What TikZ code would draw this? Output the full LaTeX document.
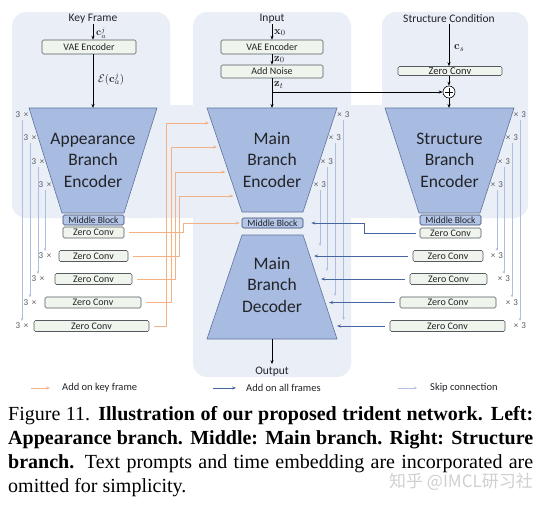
\documentclass[tikz,border=0pt]{standalone}
\usepackage[no-math]{fontspec}
\setmainfont{Carlito}
\newfontfamily\capfont{Liberation Serif}
\newfontfamily\cjkfont{Noto Sans CJK SC}
\usetikzlibrary{arrows.meta}
\definecolor{panelbg}{RGB}{234,238,247}
\definecolor{trapfill}{RGB}{167,188,224}
\definecolor{trapline}{RGB}{95,115,155}
\definecolor{mbfill}{RGB}{180,198,232}
\definecolor{mbline}{RGB}{55,70,105}
\definecolor{zcfill}{RGB}{239,245,237}
\definecolor{zcline}{RGB}{85,90,95}
\definecolor{orangeln}{RGB}{244,178,132}
\definecolor{blueln}{RGB}{70,100,160}
\definecolor{skipln}{RGB}{172,190,226}
\definecolor{txt}{RGB}{35,35,40}
\definecolor{multc}{RGB}{90,90,95}
\definecolor{wm}{RGB}{200,200,200}
\tikzset{
  title/.style={font=\fontsize{11.5}{13}\selectfont, text=txt, inner sep=0pt},
  lab/.style={font=\fontsize{11}{12}\selectfont, text=txt, inner sep=0pt},
  gbox/.style={draw=zcline, fill=zcfill, rounded corners=1.5pt, inner sep=0pt, line width=0.6pt, font=\fontsize{10}{11}\selectfont, text=txt},
  mbox/.style={draw=mbline, fill=mbfill, rounded corners=1.5pt, inner sep=0pt, line width=0.6pt, font=\fontsize{9.5}{10}\selectfont, text=txt},
  trap/.style={draw=trapline, fill=trapfill, line width=0.6pt},
  bigtxt/.style={font=\fontsize{17.5}{21.5}\selectfont, align=center, text=txt, inner sep=0pt},
  mult/.style={font=\fontsize{9}{9}\selectfont, text=multc, inner sep=0pt},
  arr/.style={-{Stealth[length=4pt,width=3pt]}, line width=0.6pt, draw=black},
  oarr/.style={-{Stealth[length=4pt,width=3pt]}, line width=0.8pt, draw=orangeln},
  barr/.style={-{Stealth[length=4pt,width=3pt]}, line width=1pt, draw=blueln},
  sarr/.style={-{Stealth[length=3pt,width=2.5pt]}, line width=0.7pt, draw=skipln, shorten <=2pt, shorten >=2pt},
  legtxt/.style={font=\fontsize{10.5}{12}\selectfont, text=txt, inner sep=0pt}
}
\begin{document}
\begin{tikzpicture}[x=1pt,y=-1pt]
\useasboundingbox (0,0) rectangle (541,504);
\fill[white] (0,0) rectangle (541,504);
% panels
\fill[panelbg, rounded corners=14pt] (12,12) rectangle (170,218);
\fill[panelbg, rounded corners=14pt] (193,12) rectangle (351,377);
\fill[panelbg, rounded corners=14pt] (382,12) rectangle (528,218);
\fill[panelbg] (160,105) rectangle (392,218);

% ---------- left branch top
\node[title] (kf) at (93,18.5) {Key Frame};
\node[gbox, minimum width=94pt, minimum height=14pt] (vaeL) at (89,47) {VAE Encoder};
\draw[arr] ([yshift=-1pt]kf.south) -- (kf.south |- vaeL.north);
\node[lab, font=\fontsize{10}{11}\selectfont, anchor=west] (caj) at (96,33) {$\mathbf{c}_a^j$};
\coordinate (appTop) at (93,108);
\draw[arr] (vaeL.south -| appTop) -- (appTop);
\node[lab, anchor=west] (ecaj) at (98,79) {$\mathcal{E}(\mathbf{c}_a^j)$};

% ---------- main branch top
\node[title] (inp) at (272,18.5) {Input};
\node[gbox, minimum width=102pt, minimum height=14pt] (vaeM) at (272,47) {VAE Encoder};
\draw[arr] ([yshift=-1pt]inp.south) -- (inp.south |- vaeM.north);
\node[lab, anchor=west] (x0) at (274,32.5) {$\mathbf{x}_0$};
\node[gbox, minimum width=102pt, minimum height=13pt] (noise) at (272,71.5) {Add Noise};
\draw[arr] (vaeM.south) -- (noise.north);
\node[lab, anchor=west] (z0) at (274,59.5) {$\mathbf{z}_0$};
\coordinate (mainTop) at (272,108);
\coordinate (ztc) at (272,92);
\draw[arr] (noise.south) -- (mainTop);
\node[lab, anchor=west] (zt) at (274,85) {$\mathbf{z}_t$};

% ---------- structure branch top
\node[title] (sc) at (449,18.5) {Structure Condition};
\node[draw, circle, minimum size=12pt, inner sep=0pt, line width=0.6pt, fill=white] (plus) at (449,92) {};
\draw[line width=0.6pt] ([yshift=4pt]plus.center) -- ([yshift=-4pt]plus.center)
      ([xshift=-4pt]plus.center) -- ([xshift=4pt]plus.center);
\node[gbox, minimum width=104pt, minimum height=9pt, font=\fontsize{10.5}{10.5}\selectfont] (zcTop) at (450,71) {Zero Conv};
\draw[arr] ([yshift=-1pt]sc.south -| plus) -- (plus |- zcTop.north);
\node[lab, anchor=west] (cs) at (454,48) {$\mathbf{c}_s$};
\draw[arr] (plus |- zcTop.south) -- (plus.north);
\coordinate (strTop) at (449,108);
\draw[arr] (plus.south) -- (strTop);
\draw[arr] (ztc) -- (plus.west);

% ---------- trapezoids
\draw[trap] (29,108) -- (157,108) -- (124,213) -- (62,213) -- cycle;
\node[bigtxt] (appT) at (93,160) {Appearance\\Branch\\Encoder};
\draw[trap] (207,108) -- (337,108) -- (303,212) -- (242,212) -- cycle;
\node[bigtxt] (encT) at (272,160) {Main\\Branch\\Encoder};
\draw[trap] (242,235) -- (303,235) -- (337,339) -- (207,339) -- cycle;
\node[bigtxt] (decT) at (272,285) {Main\\Branch\\Decoder};
\draw[trap] (385,108) -- (514,108) -- (480,213) -- (419,213) -- cycle;
\node[bigtxt] (strT) at (449.5,160) {Structure\\Branch\\Encoder};

% ---------- middle blocks
\node[mbox, minimum width=61pt, minimum height=10pt] (mbL) at (93.5,220) {Middle Block};
\node[mbox, minimum width=61pt, minimum height=10pt] (mbM) at (272.5,223) {Middle Block};
\node[mbox, minimum width=61pt, minimum height=10pt] (mbR) at (450.5,220) {Middle Block};

% ---------- zero convs left
\node[gbox, minimum width=61pt, minimum height=11pt] (zcL1) at (93.5,232.5) {Zero Conv};
\node[gbox, minimum width=69pt, minimum height=11pt] (zcL2) at (93.5,256) {Zero Conv};
\node[gbox, minimum width=77pt, minimum height=11pt] (zcL3) at (93.5,279) {Zero Conv};
\node[gbox, minimum width=96pt, minimum height=11pt] (zcL4) at (93,302.5) {Zero Conv};
\node[gbox, minimum width=115pt, minimum height=11pt] (zcL5) at (91.5,326) {Zero Conv};
% ---------- zero convs right
\node[gbox, minimum width=61pt, minimum height=10pt] (zcR1) at (450.5,233) {Zero Conv};
\node[gbox, minimum width=70pt, minimum height=11pt] (zcR2) at (448,256) {Zero Conv};
\node[gbox, minimum width=77pt, minimum height=11pt] (zcR3) at (448.5,279) {Zero Conv};
\node[gbox, minimum width=96pt, minimum height=11pt] (zcR4) at (448,302.5) {Zero Conv};
\node[gbox, minimum width=115pt, minimum height=11pt] (zcR5) at (447.5,326) {Zero Conv};

% ---------- multiplier labels
\node[mult] (ltA) at (22,115) {3\hspace{3.5pt}×};
\node[mult] (ltB) at (30,137.5) {3\hspace{3.5pt}×};
\node[mult] (ltC) at (38,161.5) {3\hspace{3.5pt}×};
\node[mult] (ltD) at (45,185) {3\hspace{3.5pt}×};
\node[mult] (lbD) at (45,256) {3\hspace{3.5pt}×};
\node[mult] (lbC) at (38,279) {3\hspace{3.5pt}×};
\node[mult] (lbB) at (30,302.5) {3\hspace{3.5pt}×};
\node[mult] (lbA) at (22,326) {3\hspace{3.5pt}×};
\node[mult] (mtA) at (343.5,115) {×\hspace{3pt}3};
\node[mult] (mtB) at (335,137.5) {×\hspace{3pt}3};
\node[mult] (mtC) at (327,161.5) {×\hspace{3pt}3};
\node[mult] (mtD) at (320,185) {×\hspace{3pt}3};
\node[mult] (rtA) at (520,115) {×\hspace{3pt}3};
\node[mult] (rtB) at (512,137.5) {×\hspace{3pt}3};
\node[mult] (rtC) at (504,161.5) {×\hspace{3pt}3};
\node[mult] (rtD) at (497,185) {×\hspace{3pt}3};
\node[mult] (rbD) at (497,256) {×\hspace{3pt}3};
\node[mult] (rbC) at (504,279) {×\hspace{3pt}3};
\node[mult] (rbB) at (512,302.5) {×\hspace{3pt}3};
\node[mult] (rbA) at (520,326) {×\hspace{3pt}3};

% ---------- skip connections
\draw[sarr] (ltA.south) -- (lbA.north);
\draw[sarr] (ltB.south) -- (lbB.north);
\draw[sarr] (ltC.south) -- (lbC.north);
\draw[sarr] (ltD.south) -- (lbD.north);
\draw[sarr] (rtA.south) -- (rbA.north);
\draw[sarr] (rtB.south) -- (rbB.north);
\draw[sarr] (rtC.south) -- (rbC.north);
\draw[sarr] (rtD.south) -- (rbD.north);
\coordinate (mbA) at (343.5,322);
\coordinate (mbB) at (335,298);
\coordinate (mbC) at (327,273);
\coordinate (mbD) at (320,248);
\draw[sarr] (mtA.south) -- (mbA);
\draw[sarr] (mtB.south) -- (mbB);
\draw[sarr] (mtC.south) -- (mbC);
\draw[sarr] (mtD.south) -- (mbD);

% ---------- orange: add on key frame
\coordinate (oT2) at (233.5,196);
\coordinate (oT3) at (225.5,172);
\coordinate (oT4) at (217,147);
\coordinate (oT5) at (209,123);
\draw[oarr] ([xshift=5pt]zcL1.east) -| (183,223) -- ([xshift=-2pt]mbM.west);
\draw[oarr] ([xshift=5pt]zcL2.east) -| (179,196) -- (oT2);
\draw[oarr] ([xshift=5pt]zcL3.east) -| (175,172) -- (oT3);
\draw[oarr] ([xshift=5pt]zcL4.east) -| (171,147) -- (oT4);
\draw[oarr] ([xshift=5pt]zcL5.east) -| (166,123) -- (oT5);

% ---------- dark blue: add on all frames
\coordinate (bT2) at (314,256);
\coordinate (bT3) at (321,279);
\coordinate (bT4) at (329,302.5);
\coordinate (bT5) at (337,326);
\draw[barr] ([xshift=-4pt]zcR1.west) -| (364,223) -- ([xshift=8pt]mbM.east);
\draw[barr] ([xshift=-5pt]zcR2.west) -- (bT2);
\draw[barr] ([xshift=-5pt]zcR3.west) -- (bT3);
\draw[barr] ([xshift=-5pt]zcR4.west) -- (bT4);
\draw[barr] ([xshift=-5pt]zcR5.west) -- (bT5);

% ---------- output
\coordinate (decBot) at (272,339);
\node[title] (outp) at (272,372) {Output};
\draw[arr, shorten >=3pt] (decBot) -- (outp.north);

% ---------- legend
\node[legtxt, anchor=west] (lg1) at (62,388) {Add on key frame};
\node[legtxt, anchor=west] (lg2) at (246,388) {Add on all frames};
\node[legtxt, anchor=west] (lg3) at (430,388) {Skip connection};
\draw[oarr] ([xshift=-31pt]lg1.west) -- ([xshift=-12pt]lg1.west);
\draw[barr, line width=0.8pt] ([xshift=-33pt]lg2.west) -- ([xshift=-10pt]lg2.west);
\draw[sarr, shorten <=0pt, shorten >=0pt] ([xshift=-32pt]lg3.west) -- ([xshift=-13pt]lg3.west);

% ---------- caption
\node[anchor=base west, inner sep=0pt] (cap) at (8,420) {\parbox[t]{525pt}{\capfont\fontsize{20}{24}\selectfont Figure 11. \textbf{Illustration of our proposed trident network. Left:}\linebreak \textbf{Appearance branch. Middle: Main branch. Right: Structure}\linebreak \textbf{branch.} Text prompts and time embedding are incorporated are\linebreak omitted for simplicity.}};
\node[text=wm, opacity=0.85, inner sep=0pt, font=\cjkfont\fontsize{17}{18}\selectfont] (wmk) at (461,482) {知乎 @IMCL研习社};
\end{tikzpicture}
\end{document}
